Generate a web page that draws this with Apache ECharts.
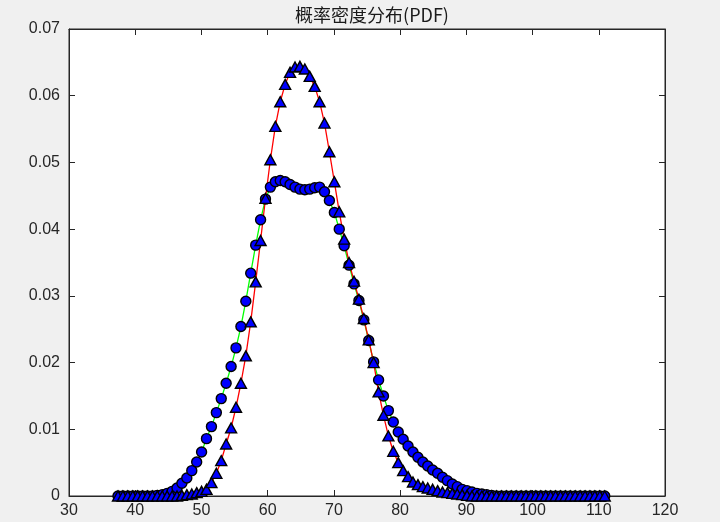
<!DOCTYPE html>
<html>
<head>
<meta charset="utf-8">
<script src="https://cdn.jsdelivr.net/npm/echarts@6/dist/echarts.min.js"></script>
<style>
html,body{margin:0;padding:0;background:#f0f0f0;}
#c{width:720px;height:522px;}
</style>
</head>
<body>
<div id="c"></div>
<script>
const titleText = '概率密度分布(PDF)';
const xTicks = [30, 40, 50, 60, 70, 80, 90, 100, 110, 120];
const yTicks = [0, 0.01, 0.02, 0.03, 0.04, 0.05, 0.06, 0.07];

const xs = [
 37.40,38.14,38.88,39.63,40.37,41.11,41.85,42.60,43.34,44.08,
 44.82,45.57,46.31,47.05,47.79,48.54,49.28,50.02,50.76,51.51,
 52.25,52.99,53.73,54.48,55.22,55.96,56.70,57.44,58.19,58.93,
 59.67,60.41,61.16,61.90,62.64,63.38,64.13,64.87,65.61,66.35,
 67.10,67.84,68.58,69.32,70.07,70.81,71.55,72.29,73.04,73.78,
 74.52,75.26,76.00,76.75,77.49,78.23,78.97,79.72,80.46,81.20,
 81.94,82.69,83.43,84.17,84.91,85.66,86.40,87.14,87.88,88.63,
 89.37,90.11,90.85,91.60,92.34,93.08,93.82,94.56,95.31,96.05,
 96.79,97.53,98.28,99.02,99.76,100.50,101.25,101.99,102.73,103.47,
 104.22,104.96,105.70,106.44,107.19,107.93,108.67,109.41,110.16,110.90
];

// circles (green line)
const circleVals = [
 0,0,0,0,0,0,0,0,0.0001,0.0002,
 0.0004,0.0007,0.0012,0.0019,0.0027,0.0038,0.0051,0.0066,0.0086,0.0104,
 0.0125,0.0146,0.0169,0.0194,0.0222,0.0254,0.0292,0.0334,0.0376,0.0414,
 0.0445,0.0463,0.0471,0.0473,0.0471,0.0467,0.0463,0.0460,0.0459,0.0460,
 0.0462,0.0463,0.0456,0.0443,0.0425,0.0400,0.0375,0.0346,0.0318,0.0293,
 0.0264,0.0233,0.0201,0.0174,0.0150,0.0128,0.0111,0.0096,0.0085,0.0075,
 0.0066,0.0058,0.0051,0.0045,0.0039,0.0034,0.0028,0.0023,0.0018,0.0014,
 0.0010,0.0008,0.0006,0.0004,0.0003,0.0002,0.0001,0,0,0,
 0,0,0,0,0,0,0,0,0,0,
 0,0,0,0,0,0,0,0,0,0
];

// triangles (red line)
const triangleVals = [
 0,0,0,0,0,0,0,0,0,0,
 0,0,0,0.0001,0.0002,0.0003,0.0005,0.0007,0.0010,0.0020,
 0.0034,0.0053,0.0078,0.0102,0.0133,0.0169,0.0210,0.0261,0.0321,0.0383,
 0.0446,0.0504,0.0554,0.0591,0.0617,0.0635,0.0643,0.0644,0.0640,0.0629,
 0.0614,0.0591,0.0559,0.0516,0.0471,0.0426,0.0385,0.0350,0.0322,0.0295,
 0.0266,0.0234,0.0200,0.0156,0.0121,0.0090,0.0067,0.0050,0.0038,0.0029,
 0.0021,0.0017,0.0014,0.0012,0.0010,0.0008,0.0006,0.0005,0.0004,0.0003,
 0.0002,0.0001,0,0,0,0,0,0,0,0,
 0,0,0,0,0,0,0,0,0,0,
 0,0,0,0,0,0,0,0,0,0
];

const axisColor = '#262626';
const fontFam = '"Liberation Sans", Arial, "Noto Sans CJK SC", sans-serif';

const chart = echarts.init(document.getElementById('c'), null, {renderer: 'canvas'});

function baseAxis(extra) {
  return Object.assign({
    type: 'value',
    axisLine: {show: true, onZero: false, lineStyle: {color: axisColor, width: 1}},
    axisTick: {show: true, inside: true, length: 6, lineStyle: {color: axisColor, width: 1}},
    splitLine: {show: false},
    axisLabel: {show: false}
  }, extra);
}

const option = {
  animation: false,
  backgroundColor: '#f0f0f0',
  title: {
    text: titleText,
    left: 367,
    top: 1,
    textAlign: 'center',
    textStyle: {
      fontFamily: '"Noto Sans CJK SC", "Liberation Sans", sans-serif',
      fontSize: 18, fontWeight: 'normal', color: '#1a1a1a'
    }
  },
  grid: {
    left: 69, right: 55, top: 29, bottom: 26,
    show: true, backgroundColor: '#ffffff', borderColor: axisColor, borderWidth: 1
  },
  xAxis: [
    baseAxis({
      min: xTicks[0], max: xTicks[xTicks.length - 1], interval: 10, position: 'bottom',
      axisLabel: {show: true, color: axisColor, fontSize: 16, fontFamily: fontFam, margin: 7}
    }),
    baseAxis({min: xTicks[0], max: xTicks[xTicks.length - 1], interval: 10, position: 'top'})
  ],
  yAxis: [
    baseAxis({
      min: yTicks[0], max: yTicks[yTicks.length - 1], interval: 0.01, position: 'left',
      axisLabel: {
        show: true, color: axisColor, fontSize: 16, fontFamily: fontFam, margin: 9,
        formatter: function (v) { return v === 0 ? '0' : v.toFixed(2); }
      }
    }),
    baseAxis({min: yTicks[0], max: yTicks[yTicks.length - 1], interval: 0.01, position: 'right'})
  ],
  series: [
    {
      type: 'line',
      xAxisIndex: 0, yAxisIndex: 0,
      data: xs.map((x, i) => [x, circleVals[i]]),
      symbol: 'circle',
      symbolSize: 10,
      showAllSymbol: true,
      lineStyle: {color: '#00ff00', width: 1.3},
      itemStyle: {color: '#0000ff', borderColor: '#000000', borderWidth: 1.4},
      emphasis: {disabled: true}
    },
    {
      type: 'line',
      xAxisIndex: 0, yAxisIndex: 0,
      data: xs.map((x, i) => [x, triangleVals[i]]),
      symbol: 'triangle',
      symbolSize: [11, 10],
      showAllSymbol: true,
      lineStyle: {color: '#ff0000', width: 1.3},
      itemStyle: {color: '#0000ff', borderColor: '#000000', borderWidth: 1.4},
      emphasis: {disabled: true}
    }
  ]
};
chart.setOption(option);
</script>
</body>
</html>
